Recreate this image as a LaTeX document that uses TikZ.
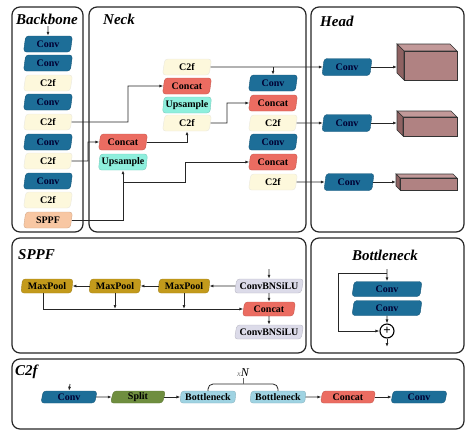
\documentclass[tikz,border=0pt]{standalone}
\usepackage{fontspec}
\setmainfont{Liberation Serif}
\usetikzlibrary{shapes.geometric,arrows.meta}
\definecolor{conv-blue}{HTML}{1D6E98}
\definecolor{c2f-cream}{HTML}{FDF8DC}
\definecolor{concat-red}{HTML}{EB6C61}
\definecolor{ups-aqua}{HTML}{8EEFDD}
\definecolor{sppf-peach}{HTML}{F8C7A3}
\definecolor{pool-gold}{HTML}{C39A1B}
\definecolor{cbs-lilac}{HTML}{DCDBE9}
\definecolor{split-green}{HTML}{6F8E3F}
\definecolor{bneck-blue}{HTML}{9FD3E2}
\definecolor{cube-front}{HTML}{B08282}
\definecolor{cube-top}{HTML}{C29999}
\definecolor{cube-side}{HTML}{8F6262}
\tikzset{
    panel/.style = {draw=black!85, line width=1.2pt, rounded corners=8pt},
    panel-title/.style = {font=\bfseries\itshape\fontsize{15}{15}\selectfont, inner sep=0pt},
    block/.style = {trapezium, trapezium left angle=72, trapezium right angle=108, trapezium stretches body,
        rounded corners=3pt, minimum width=49, minimum height=16, inner xsep=-2pt, inner ysep=0pt,
        font=\bfseries\fontsize{10}{10}\selectfont, text=black, line width=0.4pt},
    conv-box/.style = {block, fill=conv-blue, draw=conv-blue!80!black, text=black!80!blue},
    c2f-box/.style = {block, fill=c2f-cream, draw=c2f-cream!80!black!40},
    concat-box/.style = {block, fill=concat-red, draw=concat-red!85!black},
    ups-box/.style = {block, trapezium left angle=80, trapezium right angle=100, fill=ups-aqua, draw=ups-aqua!85!black},
    sppf-box/.style = {block, fill=sppf-peach, draw=sppf-peach!85!black},
    pool-box/.style = {block, trapezium left angle=78, trapezium right angle=102, fill=pool-gold, draw=pool-gold!85!black, minimum width=52, minimum height=14},
    cbs-box/.style = {block, fill=cbs-lilac, draw=cbs-lilac!85!black, minimum width=69, minimum height=14},
    split-box/.style = {block, fill=split-green, draw=split-green!85!black},
    bneck-box/.style = {block, trapezium left angle=80, trapezium right angle=100, fill=bneck-blue, draw=bneck-blue!85!black},
    arr/.style = {-{Latex[length=4pt,width=3pt]}, line width=0.8pt, draw=black!85},
    wire/.style = {line width=0.8pt, draw=black!85},
}
\begin{document}
\begin{tikzpicture}[x=1pt, y=-1pt]
\useasboundingbox (0,0) rectangle (474,440);

% panels
\draw[panel] (12,7) rectangle (83,232);
\draw[panel] (89,7) rectangle (306,232);
\draw[panel] (311,7) rectangle (464,232);
\draw[panel] (12,238) rectangle (306,353);
\draw[panel] (311,238) rectangle (464,353);
\draw[panel] (12,359) rectangle (464,429);
\node[panel-title] at (47,19) {Backbone};
\node[panel-title, anchor=west] at (103,19) {Neck};
\node[panel-title, anchor=west] at (320,21) {Head};
\node[panel-title, anchor=west] at (18,255) {SPPF};
\node[panel-title] at (385,255) {Bottleneck};
\node[panel-title, anchor=west] at (15,372) {C2f};

% backbone
\coordinate (bb-in) at (48,26);
\node[conv-box] (bb1) at (48,44) {Conv};
\node[conv-box] (bb2) at (48,63) {Conv};
\node[c2f-box] (bb3) at (48,83) {C2f};
\node[conv-box] (bb4) at (48,102) {Conv};
\node[c2f-box] (bb5) at (48,122) {C2f};
\node[conv-box] (bb6) at (48,142) {Conv};
\node[c2f-box] (bb7) at (48,161) {C2f};
\node[conv-box] (bb8) at (48,181) {Conv};
\node[c2f-box] (bb9) at (48,200) {C2f};
\node[sppf-box] (bb10) at (48,220) {SPPF};
\draw[arr] (bb-in) -- (bb1.north);

% neck
\node[concat-box] (nk-cat1) at (123,142) {Concat};
\node[ups-box] (nk-up1) at (123,162) {Upsample};
\node[c2f-box] (nk-c2f1) at (187,67) {C2f};
\node[concat-box] (nk-cat2) at (187,86) {Concat};
\node[ups-box] (nk-up2) at (187,105) {Upsample};
\node[c2f-box] (nk-c2f2) at (187,123) {C2f};
\node[conv-box] (nk-conv1) at (273,83) {Conv};
\node[concat-box] (nk-cat3) at (273,103) {Concat};
\node[c2f-box] (nk-c2f3) at (273,123) {C2f};
\node[conv-box] (nk-conv2) at (273,142) {Conv};
\node[concat-box] (nk-cat4) at (273,162) {Concat};
\node[c2f-box] (nk-c2f4) at (273,182) {C2f};

\draw[arr] (bb5.east) -- (128,122) |- (nk-cat2.west);
\draw[arr] (bb7.east) -- (88,161) |- (nk-cat1.west);
\draw[arr] (bb10.east) -| (nk-up1.south);
\draw[arr] (nk-up1.south |- 0,182) -- (185,182) |- (nk-cat4.west);
\draw[arr] (nk-cat1.east) -| (nk-c2f2.south);
\draw[arr] (nk-c2f2.east) -- (227,123) |- (nk-cat3.west);

% head
\node[conv-box, minimum width=50, minimum height=17] (hd-conv1) at (347,67) {Conv};
\node[conv-box, minimum width=50, minimum height=17] (hd-conv2) at (347,123) {Conv};
\node[conv-box, minimum width=50, minimum height=17] (hd-conv3) at (349,182) {Conv};
\foreach \n/\x/\y/\h/\d in {1/404/51/29/7, 2/403/117/19/6, 3/400/178/12/4} {
    \filldraw[fill=cube-top, draw=black!80, line width=0.6pt] (\x-\d,\y-\d) -- (457-\d,\y-\d) -- (457,\y) -- (\x,\y) -- cycle;
    \filldraw[fill=cube-side, draw=black!80, line width=0.6pt] (\x-\d,\y-\d) -- (\x,\y) -- (\x,\y+\h) -- (\x-\d,\y+\h-\d) -- cycle;
    \filldraw[fill=cube-front, draw=black!80, line width=0.6pt] (\x,\y) rectangle (457,\y+\h);
    \coordinate (cube\n) at (\x-\d,\y);
}
\draw[arr] (nk-c2f1.east) -- (hd-conv1.west);
\draw[arr] (nk-c2f1.east -| nk-conv1.north) -- (nk-conv1.north);
\draw[arr] (nk-c2f3.east) -- (hd-conv2.west);
\draw[arr] (nk-c2f4.east) -- (hd-conv3.west);
\draw[arr] (hd-conv1.east) -- (hd-conv1.east -| cube1);
\draw[arr] (hd-conv2.east) -- (hd-conv2.east -| cube2);
\draw[arr] (hd-conv3.east) -- (hd-conv3.east -| cube3);

% SPPF
\coordinate (sp-in) at (269,269);
\node[pool-box] (sp-pool1) at (47,286) {MaxPool};
\node[pool-box] (sp-pool2) at (115,286) {MaxPool};
\node[pool-box] (sp-pool3) at (184,286) {MaxPool};
\node[cbs-box] (sp-cbs1) at (269,286) {ConvBNSiLU};
\node[concat-box, minimum width=53, minimum height=14] (sp-cat) at (269,309) {Concat};
\node[cbs-box] (sp-cbs2) at (269,332) {ConvBNSiLU};
\draw[arr] (sp-in) -- (sp-cbs1.north);
\draw[arr] (sp-cbs1.west) -- (sp-pool3.east);
\draw[arr] (sp-pool3.west) -- (sp-pool2.east);
\draw[arr] (sp-pool2.west) -- (sp-pool1.east);
\draw[arr] (sp-cbs1.south) -- (sp-cat.north);
\draw[arr] (sp-cat.south) -- (sp-cbs2.north);
\draw[arr] ([xshift=-4pt]sp-pool1.south) |- (sp-cat.west);
\draw[arr] (sp-pool2.south) -- (sp-pool2.south |- sp-cat.west);
\draw[arr] (sp-pool3.south) -- (sp-pool3.south |- sp-cat.west);

% bottleneck
\coordinate (bn-in) at (387,269);
\coordinate (bn-out) at (387,347);
\node[conv-box, minimum width=70, minimum height=15] (bn-conv1) at (387,289) {Conv};
\node[conv-box, minimum width=70, minimum height=15] (bn-conv2) at (387,308) {Conv};
\node[circle, draw=black, line width=1.1pt, minimum size=14, inner sep=0pt, font=\bfseries\fontsize{13}{13}\selectfont] (bn-add) at (387,331) {+};
\draw[arr] (bn-in) -- (bn-conv1.north);
\draw[arr] (bn-in |- 0,273) -- (338,273) |- (bn-add.west);
\draw[arr] (bn-conv2.south) -- (bn-add.north);
\draw[arr] (bn-add.south) -- (bn-out);

% C2f
\coordinate (cf-in) at (70,384);
\node[conv-box, minimum width=56, minimum height=12] (cf-conv1) at (69,397) {Conv};
\node[split-box, minimum width=55, minimum height=12] (cf-split) at (138,397) {Split};
\node[bneck-box, minimum width=56, minimum height=12] (cf-bn1) at (208,397) {Bottleneck};
\node[bneck-box, minimum width=56, minimum height=12] (cf-bn2) at (278,397) {Bottleneck};
\node[concat-box, minimum width=55, minimum height=12] (cf-cat) at (348,397) {Concat};
\node[conv-box, minimum width=56, minimum height=12] (cf-conv2) at (419,397) {Conv};
\coordinate (cf-mid) at (243,384);
\draw[arr] (cf-in) -- (cf-conv1.north);
\draw[arr] (cf-conv1.east) -- (cf-split.west);
\draw[arr] (cf-split.east) -- (cf-bn1.west);
\draw[arr] (cf-bn2.east) -- (cf-cat.west);
\draw[arr] (cf-cat.east) -- (cf-conv2.west);
\draw[wire, rounded corners=5pt] (cf-bn1.north) -- (cf-bn1.north |- cf-mid) -- (cf-bn2.north |- cf-mid) -- (cf-bn2.north);
\draw[line width=0.5pt, black!60] (cf-mid) -- ++(0,-6) node[anchor=south, inner sep=1pt, text=black, font=\itshape\fontsize{12}{12}\selectfont] {{\fontsize{8}{8}\selectfont\color{black!55}x}N};
\end{tikzpicture}
\end{document}
